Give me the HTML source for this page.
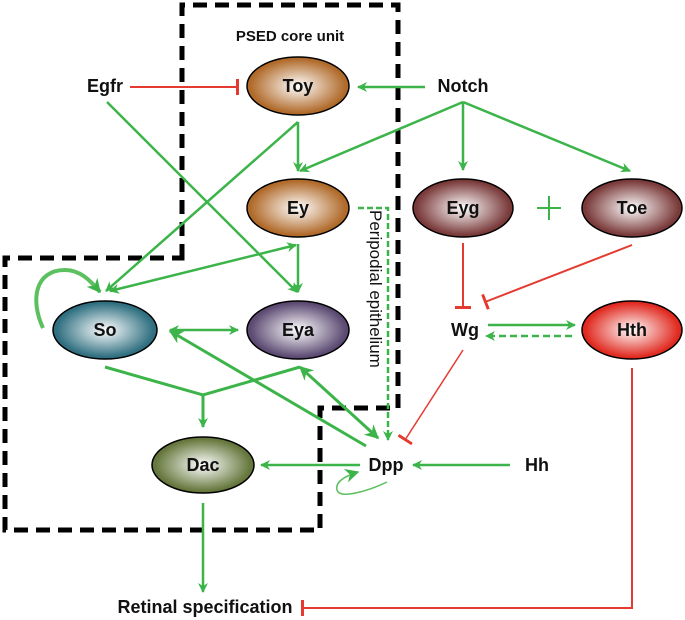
<!DOCTYPE html>
<html><head><meta charset="utf-8"><style>
html,body{margin:0;padding:0;background:#fff;}
svg{display:block;font-family:"Liberation Sans",Arial,sans-serif;}
</style></head><body>
<svg width="685" height="620" viewBox="0 0 685 620" xmlns="http://www.w3.org/2000/svg">
<defs>
<radialGradient id="gb" cx="50%" cy="50%" r="55%"><stop offset="0" stop-color="#fff"/><stop offset="0.85" stop-color="#b06a2a"/></radialGradient>
<radialGradient id="gt" cx="50%" cy="50%" r="55%"><stop offset="0" stop-color="#fff"/><stop offset="0.85" stop-color="#2f6f80"/></radialGradient>
<radialGradient id="gp" cx="50%" cy="50%" r="55%"><stop offset="0" stop-color="#fff"/><stop offset="0.85" stop-color="#5c4a72"/></radialGradient>
<radialGradient id="gg" cx="50%" cy="50%" r="55%"><stop offset="0" stop-color="#fff"/><stop offset="0.85" stop-color="#65773c"/></radialGradient>
<radialGradient id="gm" cx="50%" cy="50%" r="55%"><stop offset="0" stop-color="#fff"/><stop offset="0.85" stop-color="#7a3a3a"/></radialGradient>
<radialGradient id="gr" cx="50%" cy="50%" r="55%"><stop offset="0" stop-color="#fff"/><stop offset="0.85" stop-color="#e02a20"/></radialGradient>
<marker id="a" viewBox="0 0 10 10" refX="9" refY="5" markerWidth="10" markerHeight="10" orient="auto-start-reverse" markerUnits="userSpaceOnUse"><path d="M0,0 L10,5 L0,10 L3,5 z" fill="#3cb44a"/></marker>
<marker id="ab" viewBox="0 0 10 10" refX="9" refY="5" markerWidth="14" markerHeight="14" orient="auto-start-reverse" markerUnits="userSpaceOnUse"><path d="M0,0 L10,5 L0,10 L3,5 z" fill="#3cb44a"/></marker>
<marker id="t" viewBox="0 0 4 16" refX="2" refY="8" markerWidth="4" markerHeight="16" orient="auto" markerUnits="userSpaceOnUse"><rect x="0" y="0" width="3" height="16" fill="#e53a2f"/></marker>
</defs>

<g fill="none" stroke="#000" stroke-width="5" stroke-dasharray="14,8">
<path d="M182,258 L182,5 L398,5 L398,408 L320,408 L320,530 L5,530 L5,258 Z"/>
</g>

<g fill="none" stroke="#3cb44a" stroke-width="2.5">
<line x1="425" y1="87" x2="358" y2="87" marker-end="url(#a)"/>
<line x1="298" y1="122" x2="298" y2="171" marker-end="url(#a)"/>
<line x1="298" y1="122" x2="106" y2="291" marker-end="url(#a)"/>
<line x1="463" y1="102" x2="300" y2="171" marker-end="url(#a)"/>
<line x1="463" y1="102" x2="463" y2="170" marker-end="url(#a)"/>
<line x1="463" y1="102" x2="630" y2="171" marker-end="url(#a)"/>
<line x1="107" y1="102" x2="297" y2="292" marker-end="url(#a)"/>
<line x1="298" y1="244" x2="298" y2="292" marker-end="url(#a)"/>
<line x1="296" y1="245" x2="110" y2="291" marker-start="url(#a)" marker-end="url(#a)"/>
<line x1="170" y1="330" x2="238" y2="330" marker-start="url(#a)" marker-end="url(#a)"/>
<polyline points="105,367 203,395 300,367" stroke-width="3"/>
<line x1="203" y1="395" x2="203" y2="427" marker-end="url(#a)" stroke-width="3"/>
<line x1="366" y1="446" x2="170" y2="331" stroke-width="3" marker-end="url(#ab)"/>
<line x1="300" y1="367" x2="378" y2="438" stroke-width="3" marker-start="url(#ab)" marker-end="url(#ab)"/>
<line x1="360" y1="465" x2="261" y2="465" marker-end="url(#a)"/>
<line x1="510" y1="465" x2="413" y2="465" marker-end="url(#a)"/>
<line x1="203" y1="503" x2="203" y2="592" marker-end="url(#a)"/>
<line x1="488" y1="325" x2="575" y2="325" marker-end="url(#a)"/>
<line x1="572" y1="336" x2="486" y2="336" stroke-dasharray="7,4" marker-end="url(#a)"/>
<path d="M358,208 L388,208 L388,440" stroke-dasharray="6,3" marker-end="url(#a)"/>
<path d="M43,328 C30,300 35,270 65,270 C80,270 90,280 100,292" stroke="#5cc060" stroke-width="4" marker-end="url(#ab)"/>
<path d="M387,482 C370,490 340,500 337,490 C335,482 345,476 358,472" stroke="#5cc060" stroke-width="1.5" marker-end="url(#ab)"/>
<line x1="537" y1="208" x2="561" y2="208" stroke-width="2"/>
<line x1="549" y1="196" x2="549" y2="220" stroke-width="2"/>
</g>

<g fill="none" stroke="#e53a2f" stroke-width="2">
<line x1="130" y1="87" x2="238" y2="87" marker-end="url(#t)"/>
<line x1="463" y1="243" x2="463" y2="308" marker-end="url(#t)"/>
<line x1="632" y1="245" x2="485" y2="302" marker-end="url(#t)"/>
<line x1="463" y1="350" x2="405" y2="440" stroke-width="1.5" marker-end="url(#t)"/>
<polyline points="632,368 632,608 302,608" marker-end="url(#t)"/>
</g>

<g stroke="#000" stroke-width="1.5">
<ellipse cx="298" cy="86" rx="51" ry="29" fill="url(#gb)"/>
<ellipse cx="298" cy="208" rx="51" ry="29" fill="url(#gb)"/>
<ellipse cx="105" cy="330" rx="52" ry="29" fill="url(#gt)"/>
<ellipse cx="298" cy="330" rx="51" ry="29" fill="url(#gp)"/>
<ellipse cx="203" cy="465" rx="51" ry="28" fill="url(#gg)"/>
<ellipse cx="463" cy="208" rx="50" ry="29" fill="url(#gm)"/>
<ellipse cx="632" cy="208" rx="50" ry="29" fill="url(#gm)"/>
<ellipse cx="632" cy="330" rx="50" ry="29" fill="url(#gr)"/>
</g>

<g font-weight="bold" font-size="18" text-anchor="middle" fill="#111">
<text x="298" y="92">Toy</text>
<text x="298" y="214">Ey</text>
<text x="105" y="336">So</text>
<text x="298" y="336">Eya</text>
<text x="203" y="471">Dac</text>
<text x="463" y="214">Eyg</text>
<text x="632" y="214">Toe</text>
<text x="632" y="336">Hth</text>
<text x="105" y="92">Egfr</text>
<text x="463" y="92">Notch</text>
<text x="465" y="336">Wg</text>
<text x="386" y="471">Dpp</text>
<text x="537" y="471">Hh</text>
<text x="205" y="613">Retinal specification</text>
<text x="290" y="41" font-size="15">PSED core unit</text>
</g>
<text x="0" y="0" font-size="17" fill="#111" transform="translate(370,210) rotate(90)">Peripodial epithelium</text>
</svg>
</body></html>
